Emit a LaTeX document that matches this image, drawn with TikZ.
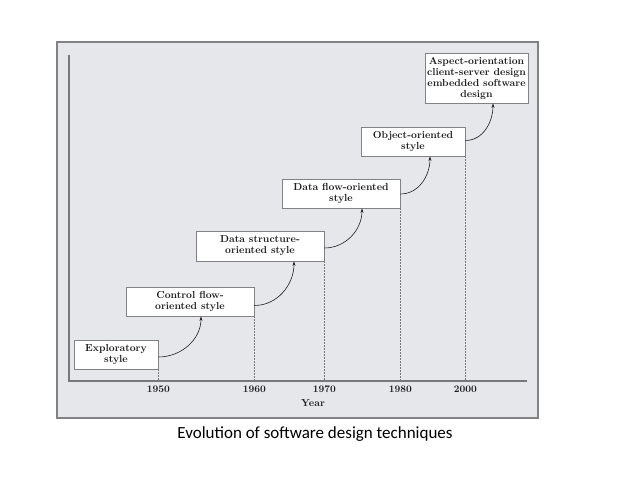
\documentclass[tikz,border=0pt]{standalone}
\usepackage{fontspec}
\newfontfamily\capfont{Carlito}
\usepackage{tikz}
\usetikzlibrary{arrows.meta,positioning,calc}
\usepackage{xcolor}
\definecolor{panelbg}{RGB}{229,231,234}
\definecolor{panelrim}{RGB}{130,130,132}
\definecolor{axisgray}{RGB}{120,120,122}
\definecolor{inkgray}{RGB}{30,30,30}

\begin{document}
\begin{tikzpicture}[x=1pt, y=1pt,
    box/.style={draw=panelrim, fill=white, line width=0.8pt, inner sep=2pt,
                align=center, text=inkgray,
                font=\fontsize{10.2}{11}\selectfont\bfseries},
    arr/.style={-{Stealth[length=4.5pt,width=3pt]}, semithick, inkgray},
    guide/.style={draw=axisgray, line width=0.6pt, dash pattern=on 1.5pt off 1.5pt},
    yearlbl/.style={below=1pt, text=inkgray, font=\fontsize{10}{11}\selectfont\bfseries}
]
\useasboundingbox (0,0) rectangle (638,478);
\fill[white] (0,0) rectangle (638,478);
\draw[panelrim, line width=2pt, fill=panelbg] (57,60) rectangle (538,436);

% axes
\coordinate (o) at (69,97);
\coordinate (xend) at (527,97);
\coordinate (ytop) at (69,423);
\draw[axisgray, line width=1.2pt] (ytop) -- (o) -- (xend);

% the styles
\node[box, minimum width=84pt, minimum height=29pt] (expl) at (116,123.5) {Exploratory\\style};
\node[box, minimum width=128pt, minimum height=29pt] (ctrl) at (190,176.5) {Control flow-\\oriented style};
\node[box, minimum width=128pt, minimum height=30pt] (dstruct) at (260,232) {Data structure-\\oriented style};
\node[box, minimum width=118pt, minimum height=29pt] (dflow) at (341,284.5) {Data flow-oriented\\style};
\node[box, minimum width=104pt, minimum height=29pt] (objor) at (413,336.5) {Object-oriented\\style};
\node[box, minimum width=103pt, minimum height=50pt] (aspect) at (476.5,400) {Aspect-orientation\\client-server design\\embedded software\\design};

% years
\foreach \bx/\yr in {expl/1950, ctrl/1960, dstruct/1970, dflow/1980, objor/2000} {
  \draw[guide] (\bx.south east) -- (\bx.south east |- o);
  \node[yearlbl] (yr\yr) at (\bx.south east |- o) {\yr};
}
\node[text=inkgray, font=\fontsize{10.2}{11}\selectfont\bfseries] (yearlabel) at (313,75) {Year};

% arrows
\draw[arr] ([yshift=-2.5pt]expl.east) to[out=0, in=-90] ([xshift=11pt]ctrl.south);
\draw[arr] ([yshift=-4pt]ctrl.east) to[out=0, in=-90] ([xshift=34pt]dstruct.south);
\draw[arr] ([yshift=-2pt]dstruct.east) to[out=0, in=-90] ([xshift=21pt]dflow.south);
\draw[arr] ([yshift=-0.5pt]dflow.east) to[out=0, in=-90] ([xshift=17pt]objor.south);
\draw[arr] ([yshift=1pt]objor.east) to[out=0, in=-90] ([xshift=16.5pt]aspect.south);

\node[font=\capfont\fontsize{17}{20}\selectfont] (caption) at (315,44) {Evolution of software design techniques};
\end{tikzpicture}
\end{document}
